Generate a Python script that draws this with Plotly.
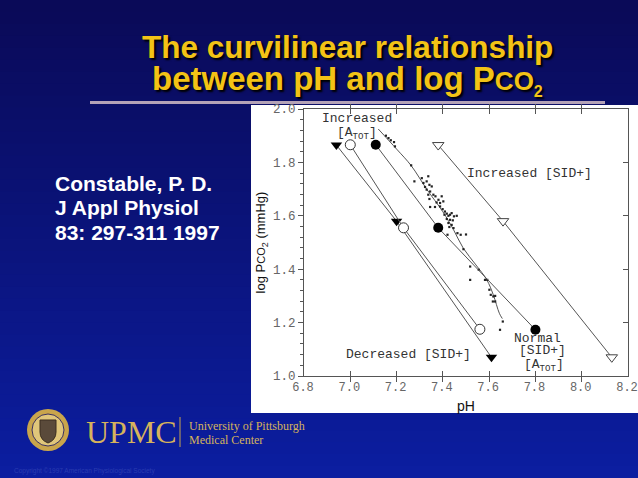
import plotly.graph_objects as go

tri_filled_ph = [6.94, 7.20, 7.61]
tri_filled_pco2 = [1.865, 1.58, 1.07]
circ_open_ph = [7.00, 7.23, 7.56]
circ_open_pco2 = [1.866, 1.555, 1.175]
circ_filled_ph = [7.11, 7.38, 7.80]
circ_filled_pco2 = [1.866, 1.555, 1.173]
tri_open_ph = [7.38, 7.66, 8.13]
tri_open_pco2 = [1.865, 1.58, 1.07]

# measured points (small dots)
dots_ph = [7.154, 7.165, 7.175, 7.189, 7.193, 7.263, 7.277, 7.309, 7.316, 7.330,
           7.337, 7.342, 7.323, 7.352, 7.330, 7.345, 7.337, 7.359, 7.342, 7.368,
           7.381, 7.388, 7.373, 7.395, 7.402, 7.345, 7.366, 7.388, 7.399, 7.409,
           7.417, 7.407, 7.424, 7.431, 7.438, 7.448, 7.460, 7.417, 7.431, 7.443,
           7.424, 7.438, 7.428, 7.446, 7.463, 7.420, 7.477, 7.500, 7.489, 7.518,
           7.555, 7.518, 7.582, 7.592, 7.601, 7.607, 7.618, 7.626, 7.616, 7.626,
           7.659, 7.647]
dots_pco2 = [1.900, 1.891, 1.883, 1.876, 1.860, 1.789, 1.729, 1.741, 1.723, 1.729,
             1.748, 1.716, 1.708, 1.710, 1.698, 1.691, 1.679, 1.679, 1.663, 1.673,
             1.660, 1.648, 1.650, 1.673, 1.654, 1.633, 1.633, 1.635, 1.625, 1.616,
             1.608, 1.604, 1.600, 1.604, 1.610, 1.598, 1.600, 1.588, 1.585, 1.583,
             1.573, 1.566, 1.558, 1.554, 1.535, 1.529, 1.529, 1.530, 1.475, 1.410,
             1.398, 1.360, 1.360, 1.360, 1.323, 1.304, 1.298, 1.300, 1.279, 1.279,
             1.204, 1.173]

# curvilinear fit through the dots
fit_ph = [7.121, 7.20, 7.263, 7.33, 7.40, 7.446, 7.488, 7.543, 7.59, 7.618, 7.644, 7.657]
fit_pco2 = [1.925, 1.85, 1.788, 1.70, 1.615, 1.548, 1.479, 1.416, 1.36, 1.304, 1.235, 1.215]

y_ticks = [1.0, 1.2, 1.4, 1.6, 1.8, 2.0]
x_ticks = [6.8, 7.0, 7.2, 7.4, 7.6, 7.8, 8.0, 8.2]

W, H = 638, 478
L, R, T, B = 304, 628, 109, 376


def px(x):
    return (x - L) / (R - L)


def py(y):
    return (B - y) / (B - T)


LINE = "#555555"
fig = go.Figure()

fig.add_trace(go.Scatter(x=fit_ph, y=fit_pco2, mode="lines",
                         line=dict(color=LINE, width=1, shape="spline")))
fig.add_trace(go.Scatter(x=dots_ph, y=dots_pco2, mode="markers",
                         marker=dict(symbol="square", size=2.2, color="#222")))
fig.add_trace(go.Scatter(x=tri_filled_ph, y=tri_filled_pco2, mode="lines+markers",
                         line=dict(color=LINE, width=1),
                         marker=dict(symbol="triangle-down", size=10, color="#000")))
fig.add_trace(go.Scatter(x=circ_open_ph, y=circ_open_pco2, mode="lines+markers",
                         line=dict(color=LINE, width=1),
                         marker=dict(symbol="circle", size=10, color="white",
                                     line=dict(color="#333", width=1))))
fig.add_trace(go.Scatter(x=circ_filled_ph, y=circ_filled_pco2, mode="lines+markers",
                         line=dict(color=LINE, width=1),
                         marker=dict(symbol="circle", size=10, color="#000")))
fig.add_trace(go.Scatter(x=tri_open_ph, y=tri_open_pco2, mode="lines+markers",
                         line=dict(color=LINE, width=1),
                         marker=dict(symbol="triangle-down", size=10, color="white",
                                     line=dict(color="#444", width=1))))
# dummy trace so the right-hand axis is drawn
fig.add_trace(go.Scatter(x=[7.0], y=[1.5], yaxis="y2", mode="markers",
                         marker=dict(opacity=0), hoverinfo="skip"))

shapes = []
# slide background, dark navy at top to brighter blue at the bottom
n = 40
for i in range(n):
    f = i / (n - 1)
    r = int(10 + 2 * f)
    g = int(10 + 20 * f)
    b = int(88 + 72 * f)
    y0 = H * i / n
    y1 = H * (i + 1) / n + 1
    shapes.append(dict(type="rect", xref="paper", yref="paper", layer="below",
                       x0=px(0), x1=px(W), y0=py(y1), y1=py(y0),
                       fillcolor=f"rgb({r},{g},{b})", line=dict(width=0)))
# white panel behind the chart
shapes.append(dict(type="rect", xref="paper", yref="paper", layer="below",
                   x0=px(251), x1=px(W), y0=py(413), y1=py(105),
                   fillcolor="white", line=dict(width=0)))
# title underline
shapes.append(dict(type="line", xref="paper", yref="paper",
                   x0=px(90), x1=px(605), y0=py(102.5), y1=py(102.5),
                   line=dict(color="#b4a2b6", width=3)))
# UPMC seal
shapes.append(dict(type="circle", xref="paper", yref="paper",
                   x0=px(27), x1=px(69), y0=py(451), y1=py(409),
                   fillcolor="#c9a54c", line=dict(width=0)))
shapes.append(dict(type="circle", xref="paper", yref="paper",
                   x0=px(32), x1=px(64), y0=py(446), y1=py(414),
                   fillcolor="#e0c67a", line=dict(color="#3a3060", width=1)))
shapes.append(dict(type="path", xref="paper", yref="paper",
                   path=f"M {px(40)},{py(420)} L {px(56)},{py(420)} L {px(56)},{py(432)} "
                        f"Q {px(56)},{py(440)} {px(48)},{py(443)} "
                        f"Q {px(40)},{py(440)} {px(40)},{py(432)} Z",
                   fillcolor="#5a4a3a", line=dict(color="#3a2d20", width=1)))
shapes.append(dict(type="line", xref="paper", yref="paper",
                   x0=px(180), x1=px(180), y0=py(447), y1=py(417),
                   line=dict(color="#c9a54c", width=1)))

ann = []
TFONT = dict(family="Liberation Mono, Courier New, monospace", size=13, color="#333")
ann += [
    dict(x=7.03, y=1.963, text="Increased", font=TFONT),
    dict(x=7.03, y=1.91, text="[A<sub>TOT</sub>]", font=TFONT),
    dict(x=7.775, y=1.757, text="Increased [SID+]", font=TFONT),
    dict(x=7.25, y=1.082, text="Decreased [SID+]", font=TFONT),
    dict(x=7.81, y=1.139, text="Normal", font=TFONT),
    dict(x=7.83, y=1.095, text="[SID+]", font=TFONT),
    dict(x=7.835, y=1.041, text="[A<sub>TOT</sub>]", font=TFONT),
]
for a in ann:
    a.update(xref="x", yref="y", showarrow=False, xanchor="center", yanchor="middle")


def note(x, y, text, font, anchor="center"):
    ann.append(dict(x=px(x), y=py(y), xref="paper", yref="paper", showarrow=False,
                    xanchor=anchor, yanchor="middle", text=text, font=font))


title_font = dict(family="Liberation Sans, Arial", size=31.5, color="#f3c316",
                  weight="bold", shadow="2px 2px 2px #000")
note(347, 47, "The curvilinear relationship", title_font)
note(347, 80, "<span style='font-size:33px'>between pH and log P</span>"
              "<span style='font-size:26px'>CO</span>"
              "<sub><span style='font-size:16px'>2</span></sub>", title_font)

ref_font = dict(family="Liberation Sans, Arial", size=21, color="white", weight="bold")
for i, line in enumerate(["Constable, P. D.", "J Appl Physiol", "83: 297-311 1997"]):
    note(53, 183 + 24.5 * i, line, ref_font, anchor="left")

gold = "#d6b35c"
serif = "Liberation Serif, Times New Roman"
note(131, 432, "UPMC", dict(family=serif, size=32, color=gold))
note(187, 426, "University of Pittsburgh", dict(family=serif, size=12, color=gold), anchor="left")
note(187, 440, "Medical Center", dict(family=serif, size=12, color=gold), anchor="left")
note(12, 471, "Copyright ©1997 American Physiological Society",
     dict(family="Liberation Sans, Arial", size=6.5, color="#2a3cb0"), anchor="left")

mono = "Liberation Mono, Courier New, monospace"

fig.update_layout(
    width=W, height=H,
    margin=dict(l=L, r=W - R, t=T, b=H - B, pad=0),
    paper_bgcolor="#0b1070",
    plot_bgcolor="white",
    showlegend=False,
    shapes=shapes,
    annotations=ann,
    xaxis=dict(range=[6.8, 8.2], tickvals=x_ticks, tickformat=".1f", automargin=False,
               ticks="inside", ticklen=5, tickcolor=LINE, mirror="allticks",
               showline=True, linecolor=LINE, linewidth=1,
               ticklabeloverflow="allow", ticklabelshift=-1,
               showgrid=False, zeroline=False,
               tickfont=dict(family=mono, size=12, color="#666"),
               title=dict(text="pH", standoff=6,
                          font=dict(family="Liberation Sans, Arial", size=14, color="#111"))),
    yaxis=dict(range=[1.0, 2.0], tickvals=y_ticks, tickformat=".1f", automargin=False,
               ticks="outside", ticklen=5, tickcolor=LINE, mirror=True,
               showline=True, linecolor=LINE, linewidth=1,
               minor=dict(ticks="outside", dtick=0.04, ticklen=3, tickcolor=LINE),
               showgrid=False, zeroline=False,
               tickfont=dict(family=mono, size=12.5, color="#666"),
               title=dict(text="log P<span style='font-size:11px'>CO</span><sub>2</sub> (mmHg)",
                          standoff=4,
                          font=dict(family="Liberation Sans, Arial", size=13, color="#111"))),
    yaxis2=dict(range=[1.0, 2.0], overlaying="y", side="right", tickvals=y_ticks,
                automargin=False,
                ticks="inside", ticklen=5, tickcolor=LINE, showticklabels=False,
                showline=False, showgrid=False, zeroline=False),
)

fig.write_html("out.html", config={"displayModeBar": False, "responsive": False},
               post_script="document.documentElement.style.overflow='hidden';"
                           "document.body.style.margin='0';document.body.style.overflow='hidden';")
